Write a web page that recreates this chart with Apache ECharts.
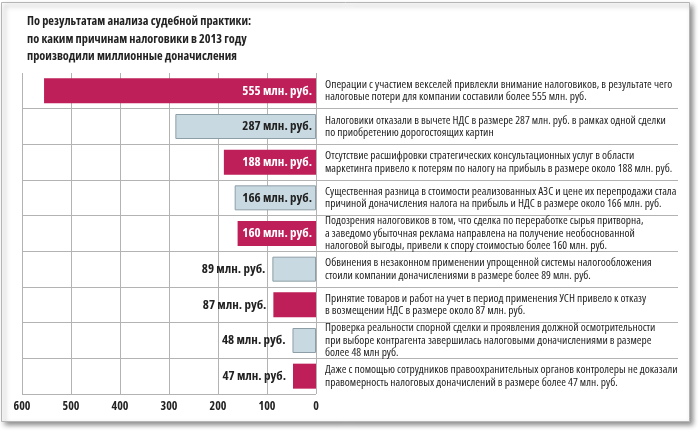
<!DOCTYPE html>
<html><head><meta charset="utf-8">
<script src="https://cdn.jsdelivr.net/npm/echarts@6/dist/echarts.min.js"></script>
<style>html,body{margin:0;padding:0;background:#fff}#c{width:700px;height:435px}</style>
</head><body><div id="c"></div>
<script>
var titleLines = ['По результатам анализа судебной практики:', 'по каким причинам налоговики в 2013 году', 'производили миллионные доначисления'];
var values = [555, 287, 188, 166, 160, 89, 87, 48, 47];
var unit = ' млн. руб.';
var highlight = [true, false, true, false, true, false, true, false, true];
var descriptions = [
 'Операции с участием векселей привлекли внимание налоговиков, в результате чего\nналоговые потери для компании составили более 555 млн. руб.',
 'Налоговики отказали в вычете НДС в размере 287 млн. руб. в рамках одной сделки\nпо приобретению дорогостоящих картин',
 'Отсутствие расшифровки стратегических консультационных услуг в области\nмаркетинга привело к потерям по налогу на прибыль в размере около 188 млн. руб.',
 'Существенная разница в стоимости реализованных АЗС и цене их перепродажи стала\nпричиной доначисления налога на прибыль и НДС в размере около 166 млн. руб.',
 'Подозрения налоговиков в том, что сделка по переработке сырья притворна,\nа заведомо убыточная реклама направлена на получение необоснованной\nналоговой выгоды, привели к спору стоимостью более 160 млн. руб.',
 'Обвинения в незаконном применении упрощенной системы налогообложения\nстоили компании доначислениями в размере более 89 млн. руб.',
 'Принятие товаров и работ на учет в период применения УСН привело к отказу\nв возмещении НДС в размере около 87 млн. руб.',
 'Проверка реальности спорной сделки и проявления должной осмотрительности\nпри выборе контрагента завершилась налоговыми доначислениями в размере\nболее 48 млн руб.',
 'Даже с помощью сотрудников правоохранительных органов контролеры не доказали\nправомерность налоговых доначислений в размере более 47 млн. руб.'
];
var xTicks = [0, 100, 200, 300, 400, 500, 600];

var FONT = '"Open Sans","Roboto",sans-serif';
var STRETCH = 'condensed';
var RED = '#be1f58', BLUE = '#c8d9e2';
var cats = descriptions.map(function (d, i) { return 'r' + i; });
var descMap = {}; cats.forEach(function (c, i) { descMap[c] = descriptions[i]; });

var barData = values.map(function (v, i) {
  var big = v > 100;
  return {
    value: v,
    itemStyle: highlight[i] ? { color: RED } : { color: BLUE, borderColor: '#8e9ea6', borderWidth: 1 },
    label: {
      show: true,
      position: big ? 'insideRight' : 'left',
      distance: big ? 4 : 7,
      color: (big && highlight[i]) ? '#fff' : '#222'
    }
  };
});

var chart = echarts.init(document.getElementById('c'), null, { renderer: 'canvas' });
chart.setOption({
  animation: false,
  backgroundColor: '#fff',
  textStyle: { fontFamily: FONT },
  title: {
    text: titleLines.join('\n'), left: 22, top: 8,
    textStyle: { fontFamily: FONT, fontStyle: STRETCH, fontSize: 12.3, fontWeight: 'bold', color: '#222', lineHeight: 17.5 }
  },
  graphic: [{
    type: 'rect', z: -100, silent: true,
    shape: { x: 1.5, y: 2.5, width: 688, height: 419 },
    style: { fill: '#fff', stroke: '#b5b5b5', lineWidth: 1, shadowBlur: 5, shadowOffsetX: 3, shadowOffsetY: 3, shadowColor: 'rgba(0,0,0,0.45)' }
  }],
  grid: [
    { left: 22, right: 384, top: 73, bottom: 41, outerBoundsMode: 'none', containLabel: false },
    { left: 316, right: 22, top: 73, bottom: 41, outerBoundsMode: 'none', containLabel: false }
  ],
  xAxis: [{
    gridIndex: 0, type: 'value', inverse: true, min: 0, max: 600, interval: 100,
    axisLine: { show: false }, axisTick: { show: false },
    splitLine: { show: true, lineStyle: { color: '#b3b3b3', width: 1 } },
    axisLabel: { fontFamily: FONT, fontStyle: STRETCH, fontSize: 12, fontWeight: 'bold', color: '#222', margin: 7,
      formatter: function (v) { return xTicks.indexOf(v) >= 0 ? String(v) : ''; } }
  }, {
    gridIndex: 1, type: 'value', min: 0, max: 1, show: false
  }],
  yAxis: [{
    gridIndex: 0, type: 'category', data: cats, inverse: true, position: 'right',
    axisLine: { show: false }, axisTick: { show: false },
    splitLine: { show: true, showMinLine: false, lineStyle: { color: '#b3b3b3', width: 1 } },
    axisLabel: { align: 'left', margin: 9, fontFamily: FONT, fontStyle: STRETCH, fontSize: 11.4, color: '#1e1e1e', lineHeight: 12.5,
      formatter: function (c) { return descMap[c]; } }
  }, {
    gridIndex: 1, type: 'category', data: cats, inverse: true,
    axisLine: { show: false }, axisTick: { show: false }, axisLabel: { show: false },
    splitLine: { show: true, showMinLine: false, showMaxLine: false, lineStyle: { color: '#b3b3b3', width: 1 } }
  }],
  series: [{
    type: 'bar', xAxisIndex: 0, yAxisIndex: 0, barWidth: 25, data: barData,
    label: { fontFamily: FONT, fontStyle: STRETCH, fontSize: 13, fontWeight: 'bold', formatter: function (p) { return p.value + unit; } }
  }]
});
</script></body></html>
